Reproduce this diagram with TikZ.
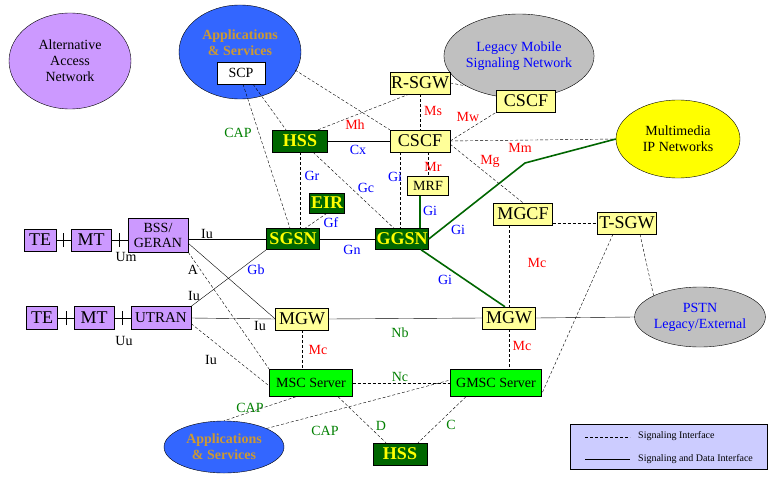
\documentclass[tikz,border=0pt]{standalone}
\usepackage{fontspec}
\setmainfont{Liberation Serif}
\usetikzlibrary{shapes.geometric}
\definecolor{dg}{HTML}{006600}
\definecolor{ly}{HTML}{FFFF99}
\definecolor{pu}{HTML}{CC99FF}
\definecolor{bg}{HTML}{00FF00}
\definecolor{bl}{HTML}{3366FF}
\definecolor{og}{HTML}{CC9933}
\definecolor{gr}{HTML}{C0C0C0}
\definecolor{lg}{HTML}{CCCCFF}
\definecolor{ye}{HTML}{FFFF00}
\definecolor{lblue}{HTML}{0000FF}
\definecolor{lred}{HTML}{FF0000}
\definecolor{lgreen}{HTML}{008000}
\begin{document}
\begin{tikzpicture}[x=1pt,y=-1pt,
  box/.style={draw,inner sep=0,font=\fontsize{18}{18}\selectfont},
  yb/.style={box,fill=ly},
  gb/.style={box,fill=dg,text=ye,font=\fontsize{18}{18}\selectfont\bfseries},
  pb/.style={box,fill=pu},
  msc/.style={box,fill=bg,font=\fontsize{14}{14}\selectfont},
  ell/.style={ellipse,draw,inner sep=0,align=center,font=\fontsize{14}{16}\selectfont},
  sig/.style={dash pattern=on 3pt off 2pt,thin},
  dat/.style={thin},
  gi/.style={draw=dg,line width=1.6pt},
  lb/.style={font=\fontsize{14}{14}\selectfont,text=lblue,inner sep=0},
  lr/.style={font=\fontsize{14}{14}\selectfont,text=lred,inner sep=0},
  lgn/.style={font=\fontsize{14}{14}\selectfont,text=lgreen,inner sep=0},
  lk/.style={font=\fontsize{14}{14}\selectfont,inner sep=0},
]
\useasboundingbox[fill=white] (0,0) rectangle (778,476);
% ellipses
\node[ell,fill=pu,minimum width=122,minimum height=96] (alt) at (70,61) {Alternative\\Access\\Network};
\node[ell,fill=bl,minimum width=122,minimum height=94] (appt) at (240,52) {};
\node[text=og,font=\fontsize{14}{16}\selectfont\bfseries,align=center] at (240,43) {Applications\\\& Services};
\node[box,fill=white,minimum width=48,minimum height=22,font=\fontsize{14}{14}\selectfont] (scp) at (241,73) {SCP};
\node[ell,fill=gr,minimum width=132,minimum height=84,text=lblue] (leg) at (519,56) {Legacy Mobile\\Signaling Network};
\node[ell,fill=ye,minimum width=124,minimum height=78] (mm) at (678,139) {Multimedia\\IP Networks};
\node[ell,fill=gr,minimum width=120,minimum height=60,text=lblue] (pstn) at (700,317) {PSTN\\Legacy/External};
\node[ell,fill=bl,minimum width=120,minimum height=52,text=og,font=\fontsize{14}{16}\selectfont\bfseries] (appb) at (224,447) {Applications\\\& Services};
% boxes
\node[yb,minimum width=60,minimum height=22] (rsgw) at (420,83) {R-SGW};
\node[yb,minimum width=59,minimum height=22] (cscf2) at (526,101) {CSCF};
\node[gb,minimum width=55,minimum height=22] (hss) at (300,141) {HSS};
\node[yb,minimum width=60,minimum height=22] (cscf) at (420,141) {CSCF};
\node[yb,minimum width=41,minimum height=19,font=\fontsize{14}{14}\selectfont] (mrf) at (428,186) {MRF};
\node[gb,minimum width=35,minimum height=20] (eir) at (327,203) {EIR};
\node[gb,minimum width=53,minimum height=21] (sgsn) at (293,239) {SGSN};
\node[gb,minimum width=53,minimum height=21] (ggsn) at (402,239) {GGSN};
\node[yb,minimum width=59,minimum height=22] (mgcf) at (523,214) {MGCF};
\node[yb,minimum width=59,minimum height=22] (tsgw) at (627,223) {T-SGW};
\node[pb,minimum width=60,minimum height=34,align=center,font=\fontsize{14}{15}\selectfont] (bss) at (158,235) {BSS/\\GERAN};
\node[pb,minimum width=32,minimum height=22] (te1) at (40,240) {TE};
\node[pb,minimum width=40,minimum height=22] (mt1) at (91,240) {MT};
\node[pb,minimum width=31,minimum height=23] (te2) at (42,318) {TE};
\node[pb,minimum width=40,minimum height=23] (mt2) at (94,318) {MT};
\node[pb,minimum width=60,minimum height=23,font=\fontsize{15}{15}\selectfont] (utran) at (161,318) {UTRAN};
\node[yb,minimum width=53,minimum height=22] (mgw1) at (302,319) {MGW};
\node[yb,minimum width=53,minimum height=22] (mgw2) at (509,318) {MGW};
\node[msc,minimum width=83,minimum height=27] (msc) at (311,383) {MSC Server};
\node[msc,minimum width=91,minimum height=27] (gmsc) at (496,383) {GMSC Server};
\node[gb,minimum width=54,minimum height=22] (hssb) at (400,454) {HSS};
% access links
\draw[dat] (te1) -- (mt1) coordinate[midway] (t1); \draw ([yshift=-7]t1) -- ([yshift=7]t1);
\draw[dat] (mt1) -- (mt1 -| bss.west) coordinate[midway] (t2); \draw ([yshift=-7]t2) -- ([yshift=7]t2);
\draw[dat] (te2) -- (mt2) coordinate[midway] (t3); \draw ([yshift=-7]t3) -- ([yshift=7]t3);
\draw[dat] (mt2) -- (utran) coordinate[midway] (t4); \draw ([yshift=-7]t4) -- ([yshift=7]t4);
\node[lk] at (126,257) {Um};
\node[lk] at (124,341) {Uu};
% solid links
\draw[dat] (sgsn -| bss.east) -- (sgsn.west); \node[lk] at (207,234) {Iu};
\draw[dat] (sgsn) -- (ggsn); \node[lb] at (352,250) {Gn};
\draw[dat] (bss.south east) ++(0,-9) -- (mgw1.west);
\draw[dat] (utran.north east) -- (sgsn.south west); \node[lb] at (256,270) {Gb}; \node[lk] at (194,296) {Iu};
\draw[dat] (utran) -- (mgw1 -| utran.east) (mgw1.west) -- (utran.east); \node[lk] at (260,326) {Iu};
\draw[dat] (mgw1.east) -- (mgw2.west); \node[lgn] at (400,333) {Nb};
\draw[dat] (mgw2.east) -- (pstn.west);
\draw[dat] (hss) -- (cscf); \node[lb] at (358,150) {Cx};
% signaling
\draw[sig] (bss.south east) -- (msc.north west); \node[lk] at (193,270) {A};
\draw[sig] (utran.south east) ++(0,-6) -- ([yshift=-3]msc.west); \node[lk] at (211,360) {Iu};
\draw[sig] (mgw1) -- (mgw1 |- msc.north); \node[lr] at (318,350) {Mc};
\draw[sig] (mgw2) -- (mgw2 |- gmsc.north); \node[lr] at (522,346) {Mc};
\draw[sig] (mgcf.south -| mgw2) -- (mgw2); \node[lr] at (537,263) {Mc};
\draw[sig] (tsgw.west -| mgcf.east) -- (tsgw.west);
\draw[sig] ([xshift=-14]tsgw.south) -- ([yshift=-11]gmsc.east);
\draw[sig] ([xshift=13]tsgw.south) -- (pstn.north west);
\draw[sig] (msc) -- (gmsc); \node[lgn] at (400,377) {Nc};
\draw[sig] (appb.north east) -- ([yshift=3]gmsc.west); \node[lgn] at (325,431) {CAP};
\draw[sig] ([xshift=-15]msc.south) -- (appb.north); \node[lgn] at (250,408) {CAP};
\draw[sig] ([xshift=27]msc.south) -- ([xshift=-14]hssb.north); \node[lgn] at (381,426) {D};
\draw[sig] ([xshift=-30]gmsc.south) -- ([xshift=18]hssb.north); \node[lgn] at (451,425) {C};
\draw[gi] ([xshift=19]ggsn.south) -- ([xshift=-4]mgw2.north); \node[lb] at (445,280) {Gi};
\draw[gi] (ggsn.east) -- (525,163) -- (mm.west); \node[lb] at (458,230) {Gi};
\draw[gi] (mrf.south -| ggsn.north east) ++(-9,0) -- ([xshift=-9]ggsn.north east); \node[lb] at (430,211) {Gi};
\draw[sig] (cscf.south -| mrf.north) -- (mrf.north); \node[lr] at (433,167) {Mr};
\draw[sig] ([xshift=-20]cscf.south) -- ([xshift=-2]ggsn.north); \node[lb] at (395,177) {Gi};
\draw[sig] (rsgw) -- (cscf); \node[lr] at (433,111) {Ms};
\draw[sig] (rsgw.east) -- (leg.south west);
\draw[sig] (cscf.east) -- (cscf2.south west); \node[lr] at (468,117) {Mw};
\draw[sig] (cscf.east) -- (mm.west); \node[lr] at (520,148) {Mm};
\draw[sig] (cscf.south east) ++(0,-8) -- (mgcf.north); \node[lr] at (490,161) {Mg};
\draw[sig] ([xshift=18]hss.north) -- ([xshift=-11]rsgw.south); \node[lr] at (355,125) {Mh};
\draw[sig] (hss) -- (hss |- sgsn.north); \node[lb] at (312,176) {Gr};
\draw[sig] ([xshift=13]hss.south) -- ([xshift=-8]ggsn.north); \node[lb] at (366,188) {Gc};
\draw[sig] (eir.south) -- ([xshift=12]sgsn.north); \node[lb] at (331,223) {Gf};
\draw[sig] ([xshift=2]scp.south) -- ([xshift=-3]sgsn.north); \node[lgn] at (238,133) {CAP};
\draw[sig] ([xshift=12]scp.south) -- ([xshift=-14]hss.north);
\draw[sig] (295,70) -- (cscf.north west);
% legend
\node[draw,fill=lg,minimum width=197,minimum height=45,inner sep=0] (lgd) at (668.5,446.5) {};
\coordinate (l1a) at (585,437); \coordinate (l1b) at (630,437);
\coordinate (l2a) at (585,459); \coordinate (l2b) at (630,459);
\draw[sig] (l1a) -- (l1b);
\draw[dat] (l2a) -- (l2b);
\node[anchor=west,font=\fontsize{10}{10}\selectfont,inner sep=0] at (638,436) {Signaling Interface};
\node[anchor=west,font=\fontsize{10}{10}\selectfont,inner sep=0] at (638,459) {Signaling and Data Interface};
\end{tikzpicture}
\end{document}
